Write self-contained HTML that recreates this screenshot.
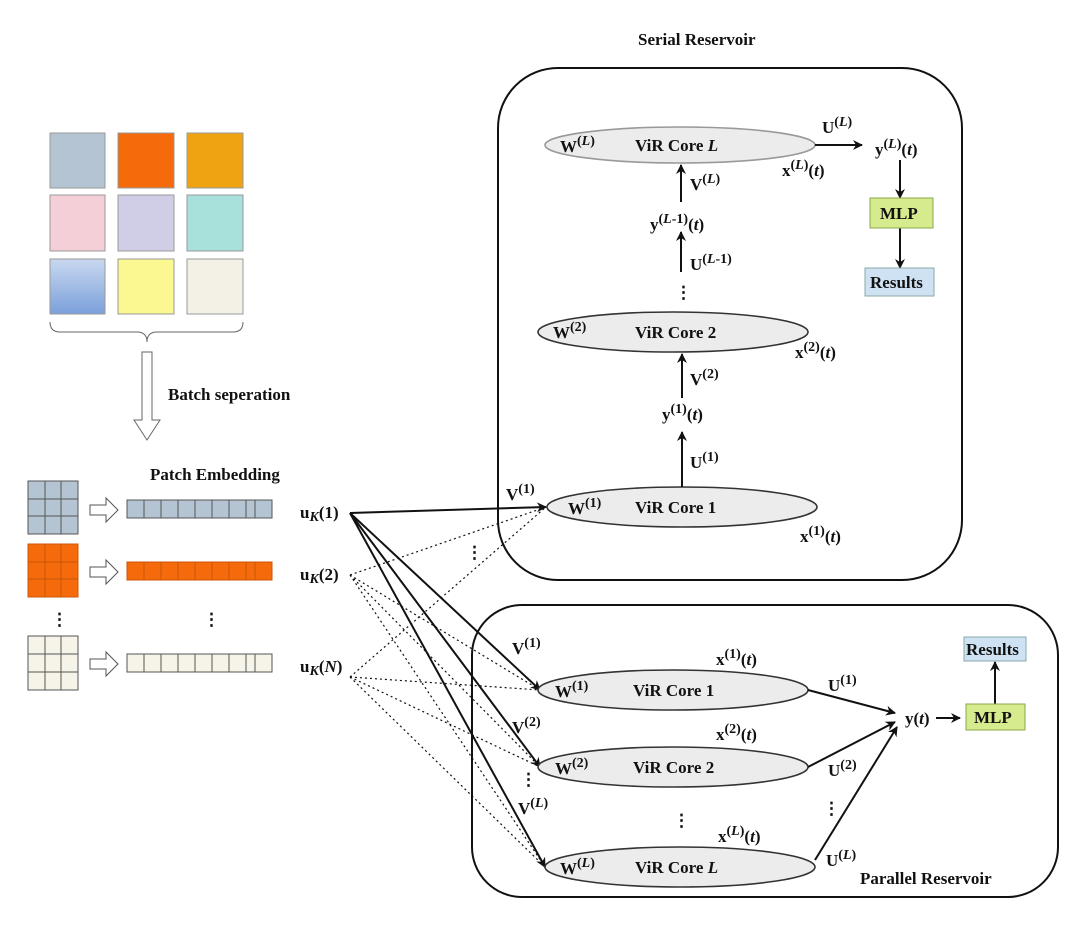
<!DOCTYPE html>
<html><head><meta charset="utf-8"><style>
html,body{margin:0;padding:0;background:#fff}
svg{display:block}
text{font-family:"Liberation Serif",serif;font-weight:bold;font-size:17px;fill:#111}
.s{font-size:14px}
</style></head><body>
<svg width="1080" height="930" viewBox="0 0 1080 930" xmlns="http://www.w3.org/2000/svg">
<defs>
<marker id="a" markerWidth="10" markerHeight="10" refX="9" refY="5" orient="auto" markerUnits="userSpaceOnUse"><path d="M0,0 L10,5 L0,10 L3,5 Z" fill="#111"/></marker>
<linearGradient id="g" x1="0" y1="0" x2="0" y2="1"><stop offset="0" stop-color="#c9d8f0"/><stop offset="1" stop-color="#7ba0da"/></linearGradient>
</defs>
<g stroke="#999" stroke-width="1">
<rect x="50" y="133" width="55" height="55" fill="#b4c4d2"/>
<rect x="118" y="133" width="56" height="55" fill="#f56a0a"/>
<rect x="187" y="133" width="56" height="55" fill="#f0a312"/>
<rect x="50" y="195" width="55" height="56" fill="#f4cfd7"/>
<rect x="118" y="195" width="56" height="56" fill="#d0cde6"/>
<rect x="187" y="195" width="56" height="56" fill="#a8e0dc"/>
<rect x="50" y="259" width="55" height="55" fill="url(#g)"/>
<rect x="118" y="259" width="56" height="55" fill="#fbf891"/>
<rect x="187" y="259" width="56" height="55" fill="#f3f1e6"/>
</g>
<path d="M50,322 Q50,332 60,332 L137,332 Q147,332 147,342 Q147,332 157,332 L233,332 Q243,332 243,322" fill="none" stroke="#666"/>
<path d="M142,352 L152,352 L152,420 L160,420 L147,440 L134,420 L142,420 Z" fill="#fff" stroke="#666"/>
<text x="168" y="400">Batch seperation</text>
<text x="150" y="480">Patch Embedding</text>
<g stroke="#555" stroke-width="1">
<rect x="28" y="481" width="50" height="53" fill="#b4c4d2"/>
<path d="M45,481V534M61,481V534M28,499H78M28,516H78"/>
<rect x="28" y="544" width="50" height="53" fill="#f56a0a" stroke="#d05a08"/>
<path d="M45,544V597M61,544V597M28,562H78M28,579H78" stroke="#c85508"/>
<rect x="28" y="636" width="50" height="54" fill="#f6f4e8"/>
<path d="M45,636V690M61,636V690M28,654H78M28,672H78"/>
</g>
<g fill="#fff" stroke="#555">
<path d="M90,505 H106 V498 L118,510 L106,522 V515 H90 Z"/>
<path d="M90,567 H106 V560 L118,572 L106,584 V577 H90 Z"/>
<path d="M90,659 H106 V652 L118,664 L106,676 V669 H90 Z"/>
</g>
<g stroke="#555">
<rect x="127" y="500" width="145" height="18" fill="#b4c4d2"/>
<rect x="127" y="562" width="145" height="18" fill="#f56a0a" stroke="#c85508"/>
<rect x="127" y="654" width="145" height="18" fill="#f6f4e8"/>
<path d="M144,500v18M161,500v18M178,500v18M195,500v18M212,500v18M229,500v18M246,500v18M255,500v18"/>
<path d="M144,562v18M161,562v18M178,562v18M195,562v18M212,562v18M229,562v18M246,562v18M255,562v18" stroke="#c85508"/>
<path d="M144,654v18M161,654v18M178,654v18M195,654v18M212,654v18M229,654v18M246,654v18M255,654v18"/>
</g>
<text x="51" y="625">⋮</text><text x="203" y="625">⋮</text>
<text x="300" y="518">u<tspan class="s" font-style="italic" dy="3">K</tspan><tspan dy="-3">(1)</tspan></text>
<text x="300" y="580">u<tspan class="s" font-style="italic" dy="3">K</tspan><tspan dy="-3">(2)</tspan></text>
<text x="300" y="672">u<tspan class="s" font-style="italic" dy="3">K</tspan><tspan dy="-3">(</tspan><tspan font-style="italic">N</tspan>)</text>
<rect x="498" y="68" width="464" height="512" rx="60" fill="none" stroke="#111" stroke-width="2"/>
<rect x="472" y="605" width="586" height="292" rx="50" fill="#fff" stroke="#111" stroke-width="2"/>
<text x="638" y="45">Serial Reservoir</text>
<text x="860" y="884">Parallel Reservoir</text>
<g stroke="#111" stroke-dasharray="2,3" stroke-width="1.2" fill="none">
<path d="M350,575L546,507M350,677L546,507M350,575L540,690M350,677L540,690M350,575L540,767M350,677L540,767M350,575L545,867M350,677L545,867"/>
</g>
<g stroke="#111" stroke-width="2" fill="none" marker-end="url(#a)">
<path d="M350,513L546,507"/><path d="M350,513L540,690"/><path d="M350,513L540,767"/><path d="M350,513L545,867"/>
</g>
<g fill="#ececec" stroke="#333" stroke-width="1.6">
<ellipse cx="680" cy="145" rx="135" ry="18" stroke="#999"/>
<ellipse cx="673" cy="332" rx="135" ry="20"/>
<ellipse cx="682" cy="507" rx="135" ry="20"/>
<ellipse cx="673" cy="690" rx="135" ry="20"/>
<ellipse cx="673" cy="767" rx="135" ry="20"/>
<ellipse cx="680" cy="867" rx="135" ry="20"/>
</g>
<text x="560" y="152">W<tspan class="s" dy="-7">(</tspan><tspan class="s" font-style="italic">L</tspan><tspan class="s">)</tspan></text>
<text x="635" y="151">ViR Core <tspan font-style="italic">L</tspan></text>
<text x="553" y="338">W<tspan class="s" dy="-7">(2)</tspan></text><text x="635" y="338">ViR Core 2</text>
<text x="568" y="514">W<tspan class="s" dy="-7">(1)</tspan></text><text x="635" y="513">ViR Core 1</text>
<text x="555" y="697">W<tspan class="s" dy="-7">(1)</tspan></text><text x="633" y="696">ViR Core 1</text>
<text x="555" y="774">W<tspan class="s" dy="-7">(2)</tspan></text><text x="633" y="773">ViR Core 2</text>
<text x="560" y="874">W<tspan class="s" dy="-7">(</tspan><tspan class="s" font-style="italic">L</tspan><tspan class="s">)</tspan></text>
<text x="635" y="873">ViR Core <tspan font-style="italic">L</tspan></text>
<g stroke="#111" stroke-width="2" fill="none" marker-end="url(#a)">
<path d="M682,487V432"/><path d="M682,398V354"/><path d="M681,272V232"/><path d="M681,202V165"/>
<path d="M815,145H862"/><path d="M900,160V198"/><path d="M900,228V268"/>
<path d="M808,690L895,713"/><path d="M808,767L895,722"/><path d="M815,860L897,727"/>
<path d="M936,718H960"/><path d="M995,704V662"/>
</g>
<text x="690" y="468">U<tspan class="s" dy="-7">(1)</tspan></text>
<text x="662" y="420">y<tspan class="s" dy="-7">(1)</tspan><tspan dy="7">(</tspan><tspan font-style="italic">t</tspan>)</text>
<text x="690" y="385">V<tspan class="s" dy="-7">(2)</tspan></text>
<text x="795" y="358">x<tspan class="s" dy="-7">(2)</tspan><tspan dy="7">(</tspan><tspan font-style="italic">t</tspan>)</text>
<text x="675" y="298">⋮</text>
<text x="690" y="270">U<tspan class="s" dy="-7">(</tspan><tspan class="s" font-style="italic">L</tspan><tspan class="s">-1)</tspan></text>
<text x="650" y="230">y<tspan class="s" dy="-7">(</tspan><tspan class="s" font-style="italic">L</tspan><tspan class="s">-1)</tspan><tspan dy="7">(</tspan><tspan font-style="italic">t</tspan>)</text>
<text x="690" y="190">V<tspan class="s" dy="-7">(</tspan><tspan class="s" font-style="italic">L</tspan><tspan class="s">)</tspan></text>
<text x="782" y="176">x<tspan class="s" dy="-7">(</tspan><tspan class="s" font-style="italic">L</tspan><tspan class="s">)</tspan><tspan dy="7">(</tspan><tspan font-style="italic">t</tspan>)</text>
<text x="822" y="133">U<tspan class="s" dy="-7">(</tspan><tspan class="s" font-style="italic">L</tspan><tspan class="s">)</tspan></text>
<text x="875" y="155">y<tspan class="s" dy="-7">(</tspan><tspan class="s" font-style="italic">L</tspan><tspan class="s">)</tspan><tspan dy="7">(</tspan><tspan font-style="italic">t</tspan>)</text>
<rect x="870" y="198" width="63" height="30" fill="#d6ea8e" stroke="#8aa84a"/>
<text x="880" y="219">MLP</text>
<rect x="865" y="268" width="69" height="28" fill="#cfe2f3" stroke="#8aa"/>
<text x="870" y="288">Results</text>
<text x="506" y="500">V<tspan class="s" dy="-7">(1)</tspan></text>
<text x="800" y="542">x<tspan class="s" dy="-7">(1)</tspan><tspan dy="7">(</tspan><tspan font-style="italic">t</tspan>)</text>
<text x="466" y="558">⋮</text>
<text x="512" y="654">V<tspan class="s" dy="-7">(1)</tspan></text>
<text x="512" y="733">V<tspan class="s" dy="-7">(2)</tspan></text>
<text x="518" y="814">V<tspan class="s" dy="-7">(</tspan><tspan class="s" font-style="italic">L</tspan><tspan class="s">)</tspan></text>
<text x="520" y="785">⋮</text>
<text x="716" y="665">x<tspan class="s" dy="-7">(1)</tspan><tspan dy="7">(</tspan><tspan font-style="italic">t</tspan>)</text>
<text x="716" y="740">x<tspan class="s" dy="-7">(2)</tspan><tspan dy="7">(</tspan><tspan font-style="italic">t</tspan>)</text>
<text x="718" y="842">x<tspan class="s" dy="-7">(</tspan><tspan class="s" font-style="italic">L</tspan><tspan class="s">)</tspan><tspan dy="7">(</tspan><tspan font-style="italic">t</tspan>)</text>
<text x="673" y="826">⋮</text><text x="823" y="814">⋮</text>
<text x="828" y="691">U<tspan class="s" dy="-7">(1)</tspan></text>
<text x="828" y="776">U<tspan class="s" dy="-7">(2)</tspan></text>
<text x="826" y="866">U<tspan class="s" dy="-7">(</tspan><tspan class="s" font-style="italic">L</tspan><tspan class="s">)</tspan></text>
<text x="905" y="724">y(<tspan font-style="italic">t</tspan>)</text>
<rect x="966" y="704" width="59" height="26" fill="#d6ea8e" stroke="#8aa84a"/>
<text x="974" y="723">MLP</text>
<rect x="964" y="637" width="62" height="24" fill="#cfe2f3" stroke="#8aa"/>
<text x="966" y="655">Results</text>
</svg>
</body></html>
